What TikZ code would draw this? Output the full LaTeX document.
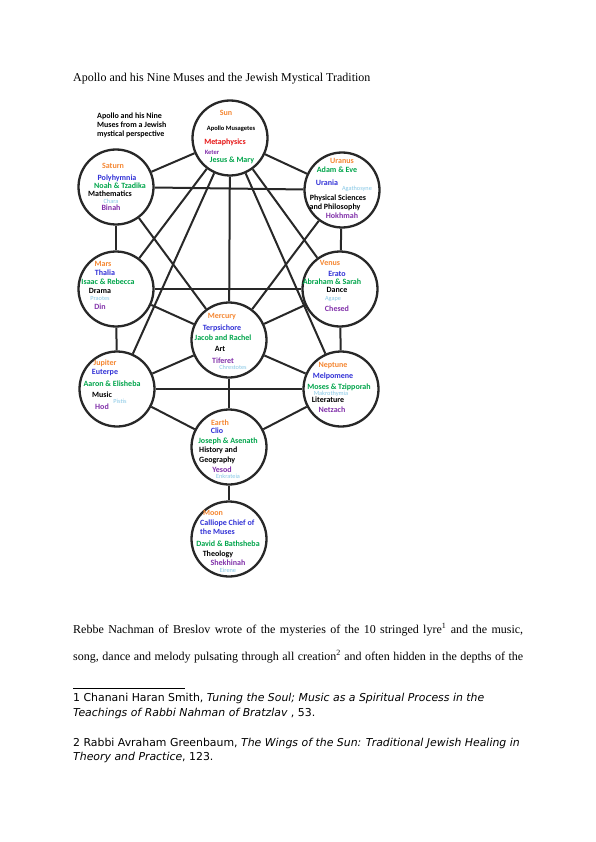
\documentclass[tikz,border=0pt]{standalone}
\usepackage{fontspec}
\setmainfont{Liberation Serif}
\newfontfamily\carl{Carlito}
\newfontfamily\dvs{DejaVu Sans}
\definecolor{orng}{RGB}{245,135,50}
\definecolor{blu}{RGB}{50,50,215}
\definecolor{grn}{RGB}{0,165,75}
\definecolor{prp}{RGB}{130,50,170}
\definecolor{lblu}{RGB}{135,200,230}
\definecolor{rd}{RGB}{230,20,20}
\definecolor{ln}{RGB}{40,40,40}
\tikzset{
  sph/.style={circle, draw=ln, line width=2.3pt, minimum size=75pt, inner sep=0pt},
  conn/.style={draw=ln, line width=2pt},
  t/.style={font=\carl\bfseries\fontsize{8}{9}\selectfont, inner sep=0pt, anchor=mid},
  tl/.style={t, anchor=mid west},
  sm/.style={font=\carl\fontsize{6.3}{7}\selectfont, inner sep=0pt, anchor=mid, text=lblu},
  body/.style={font=\fontsize{12}{14}\selectfont, inner sep=0pt, anchor=base west},
  fn/.style={font=\dvs\fontsize{10.9}{13}\selectfont, inner sep=0pt, anchor=base west}
}
\begin{document}
\begin{tikzpicture}[x=1pt,y=-1pt]
\useasboundingbox (0,0) rectangle (595,842);
\fill[white] (0,0) rectangle (595,842);

% title
\node[body] (title) at (73,82) {Apollo and his Nine Muses and the Jewish Mystical Tradition};

% spheres
\node[sph] (sun) at (230,138) {};
\node[sph] (saturn) at (116,187) {};
\node[sph] (uranus) at (342,190) {};
\node[sph] (mars) at (116,289) {};
\node[sph] (venus) at (340,289) {};
\node[sph] (mercury) at (229,340) {};
\node[sph] (jupiter) at (117,389) {};
\node[sph] (neptune) at (341,389) {};
\node[sph] (earth) at (229,447) {};
\node[sph] (moon) at (229,539) {};

% connectors
\foreach \a/\b in {sun/saturn, sun/uranus, saturn/uranus, saturn/mars, uranus/venus,
  sun/mars, sun/venus, sun/jupiter, sun/neptune, sun/mercury,
  saturn/mercury, uranus/mercury, mars/venus, mars/mercury, venus/mercury,
  mars/jupiter, venus/neptune, jupiter/mercury, neptune/mercury, jupiter/neptune,
  mercury/earth, jupiter/earth, neptune/earth, earth/moon}
  \draw[conn] (\a) -- (\b);

% heading block
\node[tl] (h1) at (97,116) {Apollo and his Nine};
\node[tl] (h2) at (97,125) {Muses from a Jewish};
\node[tl] (h3) at (97,134) {mystical perspective};

% Sun
\node[t, text=orng] (sun1) at (226,113) {Sun};
\node[t, font=\carl\bfseries\fontsize{6.5}{7}\selectfont] (sun2) at (231,128) {Apollo Musagetes};
\node[t, text=rd] (sun3) at (225,142) {Metaphysics};
\node[t, text=prp, font=\carl\bfseries\fontsize{6.5}{7}\selectfont] (sun4) at (212,152) {Keter};
\node[t, text=grn] (sun5) at (232,160) {Jesus \& Mary};

% Saturn
\node[t, text=orng] (sat1) at (113,166) {Saturn};
\node[t, text=blu] (sat2) at (117,178) {Polyhymnia};
\node[t, text=grn] (sat3) at (120,186) {Noah \& Tzadika};
\node[t] (sat4) at (110,194) {Mathematics};
\node[sm] (sat5) at (111,201) {Chara};
\node[t, text=prp] (sat6) at (111,208) {Binah};

% Uranus
\node[t, text=orng] (ura1) at (342,161) {Uranus};
\node[t, text=grn] (ura2) at (337,170) {Adam \& Eve};
\node[t, text=blu] (ura3) at (327,183) {Urania};
\node[sm] (ura4) at (357,188) {Agathosyne};
\node[t] (ura5) at (338,198) {Physical Sciences};
\node[t] (ura6) at (335,207) {and Philosophy};
\node[t, text=prp] (ura7) at (342,216) {Hokhmah};

% Mars
\node[t, text=orng] (mar1) at (103,264) {Mars};
\node[t, text=blu] (mar2) at (105,273) {Thalia};
\node[t, text=grn] (mar3) at (108,282) {Isaac \& Rebecca};
\node[t] (mar4) at (100,291) {Drama};
\node[sm] (mar5) at (100,298) {Praotes};
\node[t, text=prp] (mar6) at (100,307) {Din};

% Venus
\node[t, text=orng] (ven1) at (330,263) {Venus};
\node[t, text=blu] (ven2) at (337,274) {Erato};
\node[t, text=grn] (ven3) at (332,282) {Abraham \& Sarah};
\node[t] (ven4) at (337,290) {Dance};
\node[sm] (ven5) at (333,298) {Agape};
\node[t, text=prp] (ven6) at (337,309) {Chesed};

% Mercury
\node[t, text=orng] (mer1) at (222,316) {Mercury};
\node[t, text=blu] (mer2) at (222,328) {Terpsichore};
\node[t, text=grn] (mer3) at (223,338) {Jacob and Rachel};
\node[t] (mer4) at (220,349) {Art};
\node[t, text=prp] (mer5) at (223,361) {Tiferet};
\node[sm] (mer6) at (233,367) {Chrestotes};

% Jupiter
\node[t, text=orng] (jup1) at (105,363) {Jupiter};
\node[t, text=blu] (jup2) at (105,372) {Euterpe};
\node[t, text=grn] (jup3) at (112,384) {Aaron \& Elisheba};
\node[t] (jup4) at (102,395) {Music};
\node[sm] (jup5) at (120,401) {Pistis};
\node[t, text=prp] (jup6) at (102,407) {Hod};

% Neptune
\node[t, text=orng] (nep1) at (333,365) {Neptune};
\node[t, text=blu] (nep2) at (333,376) {Melpomene};
\node[t, text=grn] (nep3) at (339,387) {Moses \& Tzipporah};
\node[sm] (nep4) at (331,393) {Makrothymia};
\node[t] (nep5) at (328,400) {Literature};
\node[t, text=prp] (nep6) at (332,410) {Netzach};

% Earth
\node[t, text=orng] (ear1) at (220,423) {Earth};
\node[t, text=blu] (ear2) at (217,431) {Clio};
\node[t, text=grn] (ear3) at (228,441) {Joseph \& Asenath};
\node[tl] (ear4) at (199,450) {History and};
\node[tl] (ear5) at (199,460) {Geography};
\node[t, text=prp] (ear6) at (222,470) {Yesod};
\node[sm] (ear7) at (228,476) {Enkrateia};

% Moon
\node[t, text=orng] (moo1) at (213,513) {Moon};
\node[tl, text=blu] (moo2) at (200,523) {Calliope Chief of};
\node[tl, text=blu] (moo3) at (200,532) {the Muses};
\node[t, text=grn] (moo4) at (228,544) {David \& Bathsheba};
\node[t] (moo5) at (218,554) {Theology};
\node[t, text=prp] (moo6) at (228,563) {Shekhinah};
\node[sm] (moo7) at (228,570) {Eirene};

% body text
\node[body] (b1) at (73,633) {\makebox[450pt][s]{Rebbe Nachman of Breslov wrote of the mysteries of the 10 stringed lyre\textsuperscript{1} and the music,}};
\node[body] (b2) at (73,660) {\makebox[450pt][s]{song, dance and melody pulsating through all creation\textsuperscript{2} and often hidden in the depths of the}};

% footnote rule
\draw[line width=0.6pt] (73,688) -- (185,688);

% footnotes
\node[fn] (f1a) at (73,701) {1 Chanani Haran Smith, \itshape Tuning the Soul; Music as a Spiritual Process in the};
\node[fn] (f1b) at (73,716) {\itshape Teachings of Rabbi Nahman of Bratzlav\upshape\ , 53.};
\node[fn] (f2a) at (73,746) {2 Rabbi Avraham Greenbaum, \itshape The Wings of the Sun: Traditional Jewish Healing in};
\node[fn] (f2b) at (73,760) {\itshape Theory and Practice\upshape, 123.};
\end{tikzpicture}
\end{document}
